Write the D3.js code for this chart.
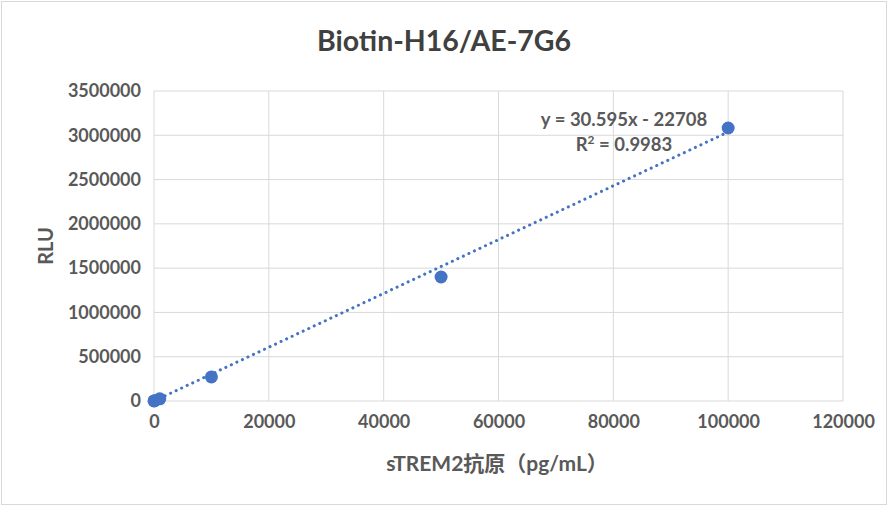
<!DOCTYPE html>
<html>
<head>
<meta charset="utf-8">
<script src="https://cdn.jsdelivr.net/npm/d3@7"></script>
<style>
  body { margin: 0; background: #fff; }
  svg text { font-family: Lato, "Noto Sans CJK SC", sans-serif; }
</style>
</head>
<body>
<svg id="chart" width="890" height="508"></svg>
<script>
// data
const concentrations = [0, 100, 1000, 10000, 50000, 100000];
const rluValues = [500, 3000, 25000, 272000, 1400000, 3082000];
const xTicks = [0, 20000, 40000, 60000, 80000, 100000, 120000];
const yTicks = [0, 500000, 1000000, 1500000, 2000000, 2500000, 3000000, 3500000];
const slope = 30.595, intercept = -22708;

const svg = d3.select("#chart");
const margin = {top: 91, left: 154, right: 47, bottom: 107};
const W = 890, H = 508;

svg.append("rect")
  .attr("x", 1.5).attr("y", 1.5)
  .attr("width", 885).attr("height", 503)
  .attr("fill", "#fff").attr("stroke", "#d9d9d9");

const x = d3.scaleLinear().domain([0, 120000]).range([margin.left, W - margin.right]);
const y = d3.scaleLinear().domain([0, 3500000]).range([H - margin.bottom, margin.top]);

// gridlines
svg.append("g").selectAll("line.h")
  .data(yTicks).join("line")
  .attr("x1", x(0)).attr("x2", x(120000))
  .attr("y1", d => y(d)).attr("y2", d => y(d))
  .attr("stroke", "#d9d9d9");
svg.append("g").selectAll("line.v")
  .data(xTicks).join("line")
  .attr("x1", d => x(d)).attr("x2", d => x(d))
  .attr("y1", y(0)).attr("y2", y(3500000))
  .attr("stroke", "#d9d9d9");

// axes (labels only)
const xAxis = svg.append("g")
  .attr("transform", `translate(0,${y(0)})`)
  .call(d3.axisBottom(x).tickValues(xTicks).tickFormat(d3.format("d")).tickSize(0).tickPadding(14));
const yAxis = svg.append("g")
  .attr("transform", `translate(${x(0)},0)`)
  .call(d3.axisLeft(y).tickValues(yTicks).tickFormat(d3.format("d")).tickSize(0).tickPadding(13));
[xAxis, yAxis].forEach(g => {
  g.select(".domain").remove();
  g.selectAll("text")
    .attr("fill", "#595959")
    .style("font-size", "18px")
    .style("font-weight", "bold");
});

// trendline
svg.append("line")
  .attr("x1", x(0)).attr("y1", y(Math.max(0, intercept)))
  .attr("x2", x(100000)).attr("y2", y(slope * 100000 + intercept))
  .attr("stroke", "#4472c4")
  .attr("stroke-width", 3)
  .attr("stroke-linecap", "round")
  .attr("stroke-dasharray", "0.1 6");

// points
svg.append("g").selectAll("circle")
  .data(concentrations.map((c, i) => [c, rluValues[i]]))
  .join("circle")
  .attr("cx", d => x(d[0]))
  .attr("cy", d => y(d[1]))
  .attr("r", 6.5)
  .attr("fill", "#4472c4");

// equation
const eq = svg.append("g").attr("fill", "#595959")
  .style("font-size", "18.5px").style("font-weight", "bold");
eq.append("text").attr("x", 624).attr("y", 126).attr("text-anchor", "middle")
  .text(`y = ${slope}x - ${Math.abs(intercept)}`);
const r2 = eq.append("text").attr("x", 624).attr("y", 151).attr("text-anchor", "middle");
r2.append("tspan").text("R");
r2.append("tspan").attr("dy", -7).style("font-size", "12px").text("2");
r2.append("tspan").attr("dy", 7).text(" = 0.9983");

// titles
svg.append("text")
  .attr("x", 444).attr("y", 51).attr("text-anchor", "middle")
  .attr("fill", "#404040")
  .style("font-size", "28.5px").style("font-weight", "bold")
  .text("Biotin-H16/AE-7G6");

svg.append("text")
  .attr("x", 497).attr("y", 471).attr("text-anchor", "middle")
  .attr("fill", "#595959")
  .style("font-size", "21px").style("font-weight", "bold")
  .text("sTREM2抗原（pg/mL）");

svg.append("text")
  .attr("transform", `translate(53,${(y(0) + y(3500000)) / 2}) rotate(-90)`)
  .attr("text-anchor", "middle")
  .attr("fill", "#595959")
  .style("font-size", "20px").style("font-weight", "bold")
  .text("RLU");
</script>
</body>
</html>
